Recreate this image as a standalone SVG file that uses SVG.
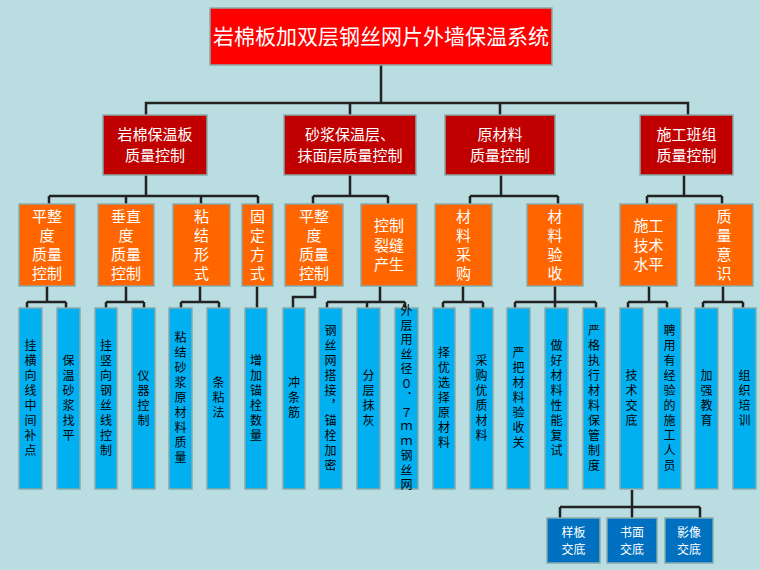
<svg xmlns="http://www.w3.org/2000/svg" width="760" height="570" viewBox="0 0 760 570">
<style>
text{font-family:"Noto Sans CJK SC","Liberation Sans",sans-serif;text-anchor:middle}
.t{fill:#fff;font-size:21px}
.l2{fill:#C00000;stroke:#8aa;stroke-width:1.5}
.l3{fill:#FF6600;stroke:#8aa;stroke-width:1.5}
.l4{fill:#00B0F0;stroke:#8aa;stroke-width:1.5}
.l5{fill:#0070C0;stroke:#8aa;stroke-width:1.5}
.w{fill:#fff;font-size:15px}
.s{fill:#fff;font-size:12px}
.v{fill:#000;font-size:12px;writing-mode:vertical-rl;text-orientation:upright;letter-spacing:3px}
.c{fill:none;stroke:#222;stroke-width:2.5}
</style>
<rect width="760" height="570" fill="#B9DDE0"/>
<g id="connectors" class="c">
<path d="M381 65V103M146 115V103H688V115M350 103V115M500 103V115"/>
<path d="M146 175V196M49 196H258M49 196V204M126 196V204M201 196V204M258 196V204"/>
<path d="M350 175V196M313 196H388M313 196V204M388 196V204"/>
<path d="M501 175V196M470 196H558M470 196V204M558 196V204"/>
<path d="M684 175V196M647 196H722M647 196V204M722 196V204"/>
<path d="M47 286V302M27 302H66M27 302V308M66 302V308"/>
<path d="M126 286V302M106 302H144M106 302V308M144 302V308"/>
<path d="M200 286V302M181 302H219M181 302V308M219 302V308"/>
<path d="M257 286V308"/>
<path d="M315 286V297H293V308"/>
<path d="M380 286V302M327 302H405M327 302V308M367 302V308M405 302V308"/>
<path d="M463 286V302M443 302H483M443 302V308M483 302V308"/>
<path d="M555 286V302M515 302H596M515 302V308M555 302V308M596 302V308"/>
<path d="M649 286V302M628 302H667M628 302V308M667 302V308"/>
<path d="M723 286V302M703 302H743M703 302V308M743 302V308"/>
<path d="M632 490V507M560 507H700M560 507V518M632 507V518M700 507V518"/>
</g>
<g id="title"><rect x="210" y="8" width="342" height="57" fill="#FF0000" stroke="#8aa" stroke-width="1.5"/><text class="t" x="381" y="44">岩棉板加双层钢丝网片外墙保温系统</text></g>
<g id="n2a"><rect class="l2" x="103" y="115" width="104" height="60"/><text class="w" x="155" y="140">岩棉保温板</text><text class="w" x="155" y="161">质量控制</text></g>
<g id="n2b"><rect class="l2" x="284" y="115" width="132" height="60"/><text class="w" x="350" y="140">砂浆保温层、</text><text class="w" x="350" y="161">抹面层质量控制</text></g>
<g id="n2c"><rect class="l2" x="445" y="115" width="110" height="60"/><text class="w" x="500" y="140">原材料</text><text class="w" x="500" y="161">质量控制</text></g>
<g id="n2d"><rect class="l2" x="640" y="115" width="93" height="60"/><text class="w" x="686.5" y="140">施工班组</text><text class="w" x="686.5" y="161">质量控制</text></g>
<g id="n3a"><rect class="l3" x="19" y="204" width="56" height="82"/><text class="w" x="47"><tspan x="47" y="222">平整</tspan><tspan x="47" y="241">度</tspan><tspan x="47" y="260">质量</tspan><tspan x="47" y="279">控制</tspan></text></g>
<g id="n3b"><rect class="l3" x="98" y="204" width="56" height="82"/><text class="w" x="126"><tspan x="126" y="222">垂直</tspan><tspan x="126" y="241">度</tspan><tspan x="126" y="260">质量</tspan><tspan x="126" y="279">控制</tspan></text></g>
<g id="n3c"><rect class="l3" x="173" y="204" width="57" height="82"/><text class="w"><tspan x="201.5" y="222">粘</tspan><tspan x="201.5" y="241">结</tspan><tspan x="201.5" y="260">形</tspan><tspan x="201.5" y="279">式</tspan></text></g>
<g id="n3d"><rect class="l3" x="242" y="204" width="31" height="82"/><text class="w"><tspan x="257.5" y="222">固</tspan><tspan x="257.5" y="241">定</tspan><tspan x="257.5" y="260">方</tspan><tspan x="257.5" y="279">式</tspan></text></g>
<g id="n3e"><rect class="l3" x="285" y="204" width="58" height="82"/><text class="w"><tspan x="314" y="222">平整</tspan><tspan x="314" y="241">度</tspan><tspan x="314" y="260">质量</tspan><tspan x="314" y="279">控制</tspan></text></g>
<g id="n3f"><rect class="l3" x="361" y="204" width="56" height="82"/><text class="w"><tspan x="389" y="231">控制</tspan><tspan x="389" y="251">裂缝</tspan><tspan x="389" y="270">产生</tspan></text></g>
<g id="n3g"><rect class="l3" x="435" y="204" width="57" height="82"/><text class="w"><tspan x="463.5" y="222">材</tspan><tspan x="463.5" y="241">料</tspan><tspan x="463.5" y="260">采</tspan><tspan x="463.5" y="279">购</tspan></text></g>
<g id="n3h"><rect class="l3" x="527" y="204" width="56" height="82"/><text class="w"><tspan x="555" y="222">材</tspan><tspan x="555" y="241">料</tspan><tspan x="555" y="260">验</tspan><tspan x="555" y="279">收</tspan></text></g>
<g id="n3i"><rect class="l3" x="620" y="204" width="57" height="82"/><text class="w"><tspan x="648.5" y="231">施工</tspan><tspan x="648.5" y="251">技术</tspan><tspan x="648.5" y="270">水平</tspan></text></g>
<g id="n3j"><rect class="l3" x="695" y="204" width="58" height="82"/><text class="w"><tspan x="724" y="222">质</tspan><tspan x="724" y="241">量</tspan><tspan x="724" y="260">意</tspan><tspan x="724" y="279">识</tspan></text></g>
<g id="n4-1"><rect class="l4" x="19" y="308" width="23" height="181"/><text class="v" x="30.5" y="399">挂横向线中间补点</text></g>
<g id="n4-2"><rect class="l4" x="57" y="308" width="23" height="181"/><text class="v" x="68.5" y="399">保温砂浆找平</text></g>
<g id="n4-3"><rect class="l4" x="95" y="308" width="22" height="181"/><text class="v" x="106" y="399">挂竖向钢丝线控制</text></g>
<g id="n4-4"><rect class="l4" x="132" y="308" width="23" height="181"/><text class="v" x="143.5" y="399">仪器控制</text></g>
<g id="n4-5"><rect class="l4" x="169" y="308" width="23" height="181"/><text class="v" x="180.5" y="399">粘结砂浆原材料质量</text></g>
<g id="n4-6"><rect class="l4" x="207" y="308" width="23" height="181"/><text class="v" x="218.5" y="399">条粘法</text></g>
<g id="n4-7"><rect class="l4" x="245" y="308" width="22" height="181"/><text class="v" x="256" y="399">增加锚栓数量</text></g>
<g id="n4-8"><rect class="l4" x="283" y="308" width="22" height="181"/><text class="v" x="294" y="399">冲条筋</text></g>
<g id="n4-9"><rect class="l4" x="319" y="308" width="23" height="181"/><text class="v" x="330.5" y="399">钢丝网搭接，锚栓加密</text></g>
<g id="n4-10"><rect class="l4" x="357" y="308" width="23" height="181"/><text class="v" x="368.5" y="399">分层抹灰</text></g>
<g id="n4-11"><rect class="l4" x="395" y="308" width="23" height="181"/><text class="v" x="406.5" y="399" style="letter-spacing:2.5px">外层用丝径０．７ｍｍ钢丝网</text></g>
<g id="n4-12"><rect class="l4" x="433" y="308" width="22" height="181"/><text class="v" x="444" y="399">择优选择原材料</text></g>
<g id="n4-13"><rect class="l4" x="470" y="308" width="23" height="181"/><text class="v" x="481.5" y="399">采购优质材料</text></g>
<g id="n4-14"><rect class="l4" x="507" y="308" width="23" height="181"/><text class="v" x="518.5" y="399">严把材料验收关</text></g>
<g id="n4-15"><rect class="l4" x="545" y="308" width="23" height="181"/><text class="v" x="556.5" y="399">做好材料性能复试</text></g>
<g id="n4-16"><rect class="l4" x="583" y="308" width="22" height="181"/><text class="v" x="594" y="399">严格执行材料保管制度</text></g>
<g id="n4-17"><rect class="l4" x="620" y="308" width="23" height="181"/><text class="v" x="631.5" y="399">技术交底</text></g>
<g id="n4-18"><rect class="l4" x="658" y="308" width="23" height="181"/><text class="v" x="669.5" y="399">聘用有经验的施工人员</text></g>
<g id="n4-19"><rect class="l4" x="695" y="308" width="23" height="181"/><text class="v" x="706.5" y="399">加强教育</text></g>
<g id="n4-20"><rect class="l4" x="733" y="308" width="23" height="181"/><text class="v" x="744.5" y="399">组织培训</text></g>
<g id="n5a"><rect class="l5" x="547" y="518" width="53" height="45"/><text class="s" x="573.5" y="537">样板</text><text class="s" x="573.5" y="554">交底</text></g>
<g id="n5b"><rect class="l5" x="607" y="518" width="50" height="45"/><text class="s" x="632" y="537">书面</text><text class="s" x="632" y="554">交底</text></g>
<g id="n5c"><rect class="l5" x="665" y="518" width="48" height="45"/><text class="s" x="689" y="537">影像</text><text class="s" x="689" y="554">交底</text></g>
</svg>
